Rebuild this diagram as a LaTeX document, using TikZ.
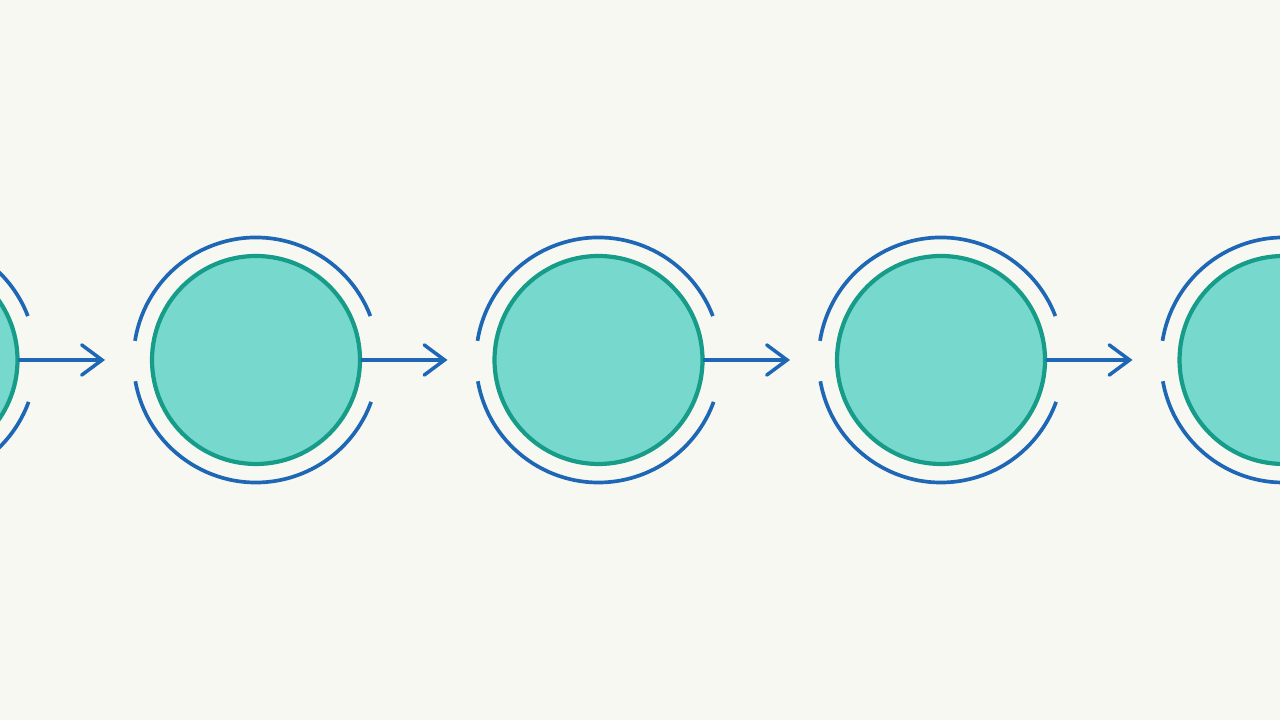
\documentclass[tikz,border=0pt]{standalone}
\usetikzlibrary{arrows.meta}

\definecolor{paper}{HTML}{F8F8F3}
\definecolor{ringblue}{HTML}{1E67B5}
\definecolor{stagerim}{HTML}{169C88}
\definecolor{stagefill}{HTML}{77D9CE}

\tikzset{
  stage/.style={circle, draw=stagerim, fill=stagefill, line width=1.2pt, minimum size=2.08cm, inner sep=0pt},
  halo/.style={circle, minimum size=2.44cm, inner sep=0pt, outer sep=0pt},
  ringarc/.style={ringblue, line width=1.05pt},
  flow/.style={ringblue, line width=1pt, line cap=round, shorten >=0.29cm,
    -{Straight Barb[length=5.8pt, width=8.6pt, line width=1pt, line cap=round]}}
}

\begin{document}
\begin{tikzpicture}
\fill[paper] (0, -3.6) rectangle (12.8, 3.6);
\useasboundingbox (0, -3.6) rectangle (12.8, 3.6);

% stages along the line
\foreach \i/\x in {1/-0.865, 2/2.56, 3/5.985, 4/9.41, 5/12.835} {
  \node[halo] (h\i) at (\x, 0) {};
  \node[stage] (s\i) at (\x, 0) {};
  \draw[ringarc] ([shift={(21:1.225)}]s\i.center) arc (21:171:1.225);
  \draw[ringarc] ([shift={(190:1.225)}]s\i.center) arc (190:340:1.225);
}

% arrows between stages
\draw[flow] (s1.east) -- (h2.west);
\draw[flow] (s2.east) -- (h3.west);
\draw[flow] (s3.east) -- (h4.west);
\draw[flow] (s4.east) -- (h5.west);
\end{tikzpicture}
\end{document}
